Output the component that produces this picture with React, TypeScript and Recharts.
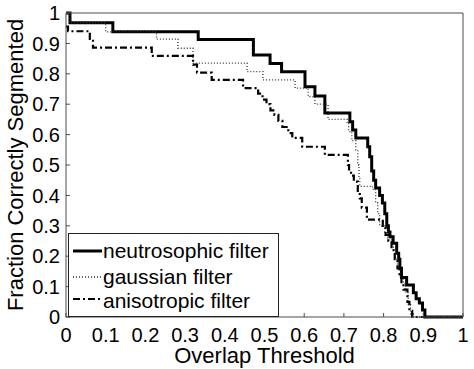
import { LineChart, Line, XAxis, YAxis, Legend } from "recharts"

// step curves: value holds from x until the next x
const neutroX = [0, 0.01, 0.118, 0.333, 0.472, 0.514, 0.543, 0.602, 0.627, 0.652, 0.715, 0.722, 0.73, 0.76, 0.765, 0.77, 0.775, 0.78, 0.79, 0.797, 0.803, 0.808, 0.812, 0.816, 0.824, 0.833, 0.838, 0.841, 0.845, 0.858, 0.875, 0.882, 0.89, 0.898, 0.904, 1]
const neutroY = [1, 0.968, 0.938, 0.913, 0.862, 0.834, 0.807, 0.757, 0.727, 0.671, 0.642, 0.615, 0.589, 0.56, 0.527, 0.48, 0.45, 0.424, 0.4, 0.375, 0.34, 0.3, 0.28, 0.264, 0.243, 0.21, 0.19, 0.16, 0.13, 0.105, 0.08, 0.06, 0.046, 0.023, 0, 0]

const gaussX = [0, 0.01, 0.1, 0.228, 0.282, 0.32, 0.456, 0.496, 0.577, 0.61, 0.627, 0.66, 0.708, 0.712, 0.72, 0.73, 0.735, 0.738, 0.74, 0.772, 0.78, 0.785, 0.79, 0.803, 0.81, 0.82, 0.83, 0.835, 0.842, 0.85, 0.855, 0.862, 0.868, 0.875, 1]
const gaussY = [1, 0.968, 0.938, 0.914, 0.884, 0.835, 0.807, 0.78, 0.753, 0.725, 0.7, 0.65, 0.64, 0.61, 0.58, 0.55, 0.5, 0.46, 0.43, 0.42, 0.375, 0.34, 0.3, 0.28, 0.26, 0.23, 0.19, 0.16, 0.13, 0.11, 0.08, 0.04, 0.01, 0, 0]

const anisoX = [0, 0.005, 0.06, 0.068, 0.216, 0.32, 0.33, 0.367, 0.446, 0.484, 0.495, 0.505, 0.515, 0.525, 0.535, 0.545, 0.56, 0.57, 0.595, 0.652, 0.71, 0.713, 0.718, 0.725, 0.735, 0.74, 0.745, 0.758, 0.798, 0.805, 0.812, 0.82, 0.828, 0.835, 0.84, 0.845, 0.85, 0.86, 0.865, 0.872, 1]
const anisoY = [0.955, 0.94, 0.915, 0.886, 0.859, 0.83, 0.804, 0.78, 0.753, 0.735, 0.715, 0.7, 0.68, 0.665, 0.645, 0.625, 0.605, 0.589, 0.56, 0.533, 0.5, 0.48, 0.465, 0.445, 0.41, 0.39, 0.36, 0.32, 0.3, 0.27, 0.25, 0.22, 0.19, 0.16, 0.13, 0.11, 0.09, 0.05, 0.02, 0, 0]

const xTicks = [0, 0.1, 0.2, 0.3, 0.4, 0.5, 0.6, 0.7, 0.8, 0.9, 1]
const yTicks = [0, 0.1, 0.2, 0.3, 0.4, 0.5, 0.6, 0.7, 0.8, 0.9, 1]

const seriesNames = ["neutrosophic filter", "gaussian filter", "anisotropic filter"]

const toPoints = (xs: number[], ys: number[]) => xs.map((x, i) => ({ x, y: ys[i] }))

const FONT = "'Liberation Sans', Arial, Helvetica, sans-serif"
const AXIS = "#4a4a4a"

const styles = [
  { stroke: "#000", strokeWidth: 3, dash: undefined as string | undefined },
  { stroke: "#333", strokeWidth: 1.3, dash: "1 2" },
  { stroke: "#000", strokeWidth: 2.2, dash: "7 3 2 3" },
]

const fmt = (v: number) => (v === 0 || v === 1 ? String(v) : v.toFixed(1))

function LegendBox() {
  return (
    <svg width={212} height={85} style={{ display: "block" }}>
      <rect x={0.5} y={0.5} width={210} height={83} fill="#fff" stroke="#222" strokeWidth={1} />
      {seriesNames.map((name, i) => {
        const s = styles[i]
        const ly = [18, 44, 66][i]
        const ty = [25, 51, 75][i]
        return (
          <g key={name}>
            <line x1={5} x2={34} y1={ly} y2={ly} stroke={s.stroke} strokeWidth={s.strokeWidth} strokeDasharray={s.dash} />
            <text x={35} y={ty} fontSize={21} fontFamily={FONT} fill="#000">
              {name}
            </text>
          </g>
        )
      })}
    </svg>
  )
}

export default function App() {
  const sets = [toPoints(neutroX, neutroY), toPoints(gaussX, gaussY), toPoints(anisoX, anisoY)]

  return (
    <div style={{ position: "absolute", left: 0, top: 0, background: "#fff" }}>
      <LineChart width={474} height={369} margin={{ top: 12, right: 10, left: 0, bottom: 0 }}>
        <XAxis
          dataKey="x"
          type="number"
          domain={[0, 1]}
          ticks={xTicks}
          tickFormatter={fmt}
          height={52}
          tickSize={-4}
          tickMargin={15}
          stroke={AXIS}
          tick={{ fill: "#000", fontSize: 20, fontFamily: FONT }}
          interval={0}
          label={({ viewBox }: any) => (
            <text x={viewBox.x + viewBox.width / 2} y={viewBox.y + 46} textAnchor="middle" fontSize={22} fontFamily={FONT} fill="#000">
              Overlap Threshold
            </text>
          )}
        />
        <XAxis xAxisId="t" orientation="top" type="number" domain={[0, 1]} ticks={xTicks} height={1} tick={false} tickSize={-4} stroke={AXIS} />
        <YAxis
          type="number"
          domain={[0, 1]}
          ticks={yTicks}
          tickFormatter={fmt}
          width={66}
          tickSize={-4}
          tickMargin={10}
          stroke={AXIS}
          tick={{ fill: "#000", fontSize: 20, fontFamily: FONT }}
          interval={0}
          label={({ viewBox }: any) => {
            const cx = 23
            const cy = viewBox.y + viewBox.height / 2
            return (
              <text x={cx} y={cy} transform={`rotate(-90, ${cx}, ${cy})`} textAnchor="middle" fontSize={22} fontFamily={FONT} fill="#000">
                Fraction Correctly Segmented
              </text>
            )
          }}
        />
        <YAxis yAxisId="r" orientation="right" type="number" domain={[0, 1]} ticks={yTicks} width={1} tick={false} tickSize={-4} stroke={AXIS} />
        {sets.map((d, i) => (
          <Line
            key={seriesNames[i]}
            data={d}
            dataKey="y"
            name={seriesNames[i]}
            type="stepAfter"
            stroke={styles[i].stroke}
            strokeWidth={styles[i].strokeWidth}
            strokeDasharray={styles[i].dash}
            dot={false}
            activeDot={false}
            isAnimationActive={false}
          />
        ))}
        <Legend
          layout="horizontal"
          verticalAlign="middle"
          align="center"
          content={() => <LegendBox />}
          wrapperStyle={{ left: 68, top: 233, width: 212, height: 85 }}
        />
      </LineChart>
    </div>
  )
}
